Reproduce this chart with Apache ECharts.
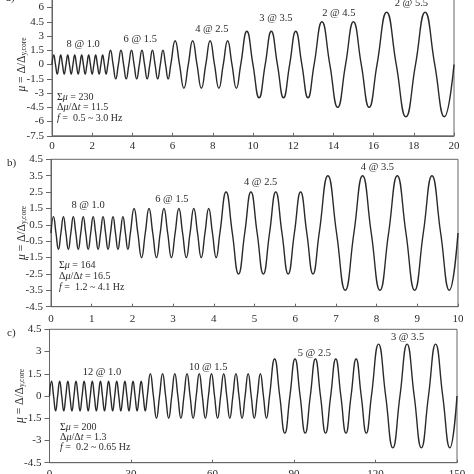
<!DOCTYPE html>
<html>
<head>
<meta charset="utf-8">
<script src="https://cdn.jsdelivr.net/npm/echarts@6/dist/echarts.min.js"></script>
<style>html,body{margin:0;padding:0;background:#fff}#c{width:474px;height:474px}</style>
</head>
<body>
<div id="c"></div>
<script>
// ---------- Panel a) ----------
const aCycles = [8, 6, 4, 3, 2, 2];
const aAmps = [1.0, 1.5, 2.5, 3.5, 4.5, 5.5];
const aBlockEnds = [2.78, 5.91, 9.39, 13.04, 16.17, 20.0];
const aLabelX = [1.55, 4.39, 7.95, 11.14, 14.27, 17.88];
const aLabelY = [2.14, 2.67, 3.70, 4.86, 5.39, 6.44];
const aStats = ['230', '11.5', '0.5 ~ 3.0 Hz'];

// ---------- Panel b) ----------
const bCycles = [8, 6, 4, 4];
const bAmps = [1.0, 1.5, 2.5, 3.5];
const bBlockEnds = [1.95, 4.15, 6.59, 10.0];
const bLabelX = [0.91, 2.97, 5.15, 8.02];
const bLabelY = [1.69, 2.08, 3.09, 4.01];
const bStats = ['164', '16.5', '1.2 ~ 4.1 Hz'];

// ---------- Panel c) ----------
const cCycles = [12, 10, 5, 3];
const cAmps = [1.0, 1.5, 2.5, 3.5];
const cBlockEnds = [36, 81, 118.5, 150];
const cLabelX = [19.3, 58.4, 97.5, 131.8];
const cLabelY = [1.63, 1.97, 2.87, 3.95];
const cStats = ['200', '1.3', '0.2 ~ 0.65 Hz'];

// Axis tick settings
const aXTicks = {min: 0, max: 20, interval: 2};
const bXTicks = {min: 0, max: 10, interval: 1};
const cXTicks = {min: 0, max: 150, interval: 30};
const aYTicks = {min: -7.5, max: 7.5, interval: 1.5};
const bYTicks = {min: -4.5, max: 4.5, interval: 1};
const cYTicks = {min: -4.5, max: 4.5, interval: 1.5};

// Each block "N @ A": N cycles of amplitude A between the previous block end and this one.
// Points are the zero crossings and peaks of each cycle; the line is drawn smoothed.
function protocolPoints(cycles, amps, ends) {
  const pts = [[0, 0]];
  let start = 0;
  for (let b = 0; b < cycles.length; b++) {
    const T = (ends[b] - start) / cycles[b];
    for (let k = 0; k < cycles[b]; k++) {
      const t0 = start + k * T;
      pts.push([t0 + T / 4, amps[b]]);
      pts.push([t0 + T / 2, 0]);
      pts.push([t0 + 3 * T / 4, -amps[b]]);
      pts.push([t0 + T, 0]);
    }
    start = ends[b];
  }
  return pts;
}
function blockLabels(cycles, amps, xs, ys) {
  return cycles.map((n, i) => ({value: [xs[i], ys[i]], label: {formatter: n + ' @ ' + amps[i].toFixed(1)}}));
}

const FONT = 'Liberation Serif';
const TXT = '#2b2b2b';
const AX = '#666';

function xAxis(gi, t, margin) {
  return {type: 'value', gridIndex: gi, min: t.min, max: t.max, interval: t.interval,
    axisLine: {show: true, onZero: false, lineStyle: {color: AX, width: 1}},
    axisTick: {show: true, inside: true, length: 3, lineStyle: {color: AX}},
    splitLine: {show: false},
    axisLabel: {color: TXT, fontFamily: FONT, fontSize: 11, margin: margin}};
}
function yAxis(gi, t, nameGap) {
  return {type: 'value', gridIndex: gi, min: t.min, max: t.max, interval: t.interval,
    axisLine: {show: true, onZero: false, lineStyle: {color: AX, width: 1}},
    axisTick: {show: true, inside: false, length: 5, lineStyle: {color: AX}},
    splitLine: {show: false},
    axisLabel: {color: TXT, fontFamily: FONT, fontSize: 11, margin: 8},
    name: '{i|μ}{n| = Δ/Δ}{s|y,core}', nameLocation: 'middle', nameGap: nameGap, nameRotate: 90,
    nameMoveOverlap: false,
    nameTextStyle: {color: TXT, fontFamily: FONT, fontSize: 11.5,
      rich: {i: {fontStyle: 'italic', fontFamily: FONT, fontSize: 11.5, color: TXT},
             n: {fontFamily: FONT, fontSize: 11.5, color: TXT},
             s: {fontFamily: FONT, fontSize: 7.5, color: TXT, verticalAlign: 'bottom', padding: [5, 0, 0, 0]}}}};
}
function lineSeries(i, pts) {
  return {type: 'line', xAxisIndex: i, yAxisIndex: i, data: pts, smooth: 0.5, showSymbol: false,
    symbol: 'none', lineStyle: {color: '#2a2a2a', width: 1.4}, silent: true, animation: false};
}
function labelSeries(i, data) {
  return {type: 'scatter', xAxisIndex: i, yAxisIndex: i, data: data, symbolSize: 0, silent: true,
    label: {show: true, position: 'inside', color: TXT, opacity: 1, textBorderWidth: 0,
      fontFamily: FONT, fontSize: 10.5}, animation: false};
}
const richStats = {
  n: {fontFamily: FONT, fontSize: 10, fill: TXT, color: TXT},
  i: {fontFamily: FONT, fontSize: 10, fill: TXT, color: TXT, fontStyle: 'italic'}
};
function statsText(x, y0, dy, s) {
  return [
    {type: 'text', left: x, top: y0, style: {text: '{n|Σ}{i|μ}{n| = ' + s[0] + '}', rich: richStats}},
    {type: 'text', left: x, top: y0 + dy, style: {text: '{n|Δ}{i|μ}{n|/Δ}{i|t}{n| = ' + s[1] + '}', rich: richStats}},
    {type: 'text', left: x, top: y0 + 2 * dy, style: {text: '{i|f}{n| =  ' + s[2] + '}', rich: richStats}}
  ];
}
function panelTag(x, y, t) {
  return {type: 'text', left: x, top: y, style: {text: t, fontFamily: FONT, fontSize: 11, fill: TXT}};
}

const chart = echarts.init(document.getElementById('c'), null, {renderer: 'canvas'});
chart.setOption({
  animation: false,
  backgroundColor: '#fff',
  grid: [
    {left: 52, right: 20, top: -6.7, height: 142.5, show: true, borderColor: AX, borderWidth: 1,
     containLabel: false, outerBoundsMode: 'none'},
    {left: 51, right: 16, top: 159.3, height: 147.4, show: true, borderColor: AX, borderWidth: 1,
     containLabel: false, outerBoundsMode: 'none'},
    {left: 49.5, right: 17, top: 329.3, height: 133.4, show: true, borderColor: AX, borderWidth: 1,
     containLabel: false, outerBoundsMode: 'none'}
  ],
  xAxis: [xAxis(0, aXTicks, 5), xAxis(1, bXTicks, 7), xAxis(2, cXTicks, 6)],
  yAxis: [yAxis(0, aYTicks, 24), yAxis(1, bYTicks, 23), yAxis(2, cYTicks, 23)],
  series: [
    lineSeries(0, protocolPoints(aCycles, aAmps, aBlockEnds)),
    lineSeries(1, protocolPoints(bCycles, bAmps, bBlockEnds)),
    lineSeries(2, protocolPoints(cCycles, cAmps, cBlockEnds)),
    labelSeries(0, blockLabels(aCycles, aAmps, aLabelX, aLabelY)),
    labelSeries(1, blockLabels(bCycles, bAmps, bLabelX, bLabelY)),
    labelSeries(2, blockLabels(cCycles, cAmps, cLabelX, cLabelY))
  ],
  graphic: [
    panelTag(6, -7, 'a)'),
    panelTag(7, 158, 'b)'),
    panelTag(7, 328, 'c)'),
    ...statsText(57, 92, 10.5, aStats),
    ...statsText(59, 260, 11.3, bStats),
    ...statsText(60, 422, 10.3, cStats)
  ]
});
</script>
</body>
</html>
